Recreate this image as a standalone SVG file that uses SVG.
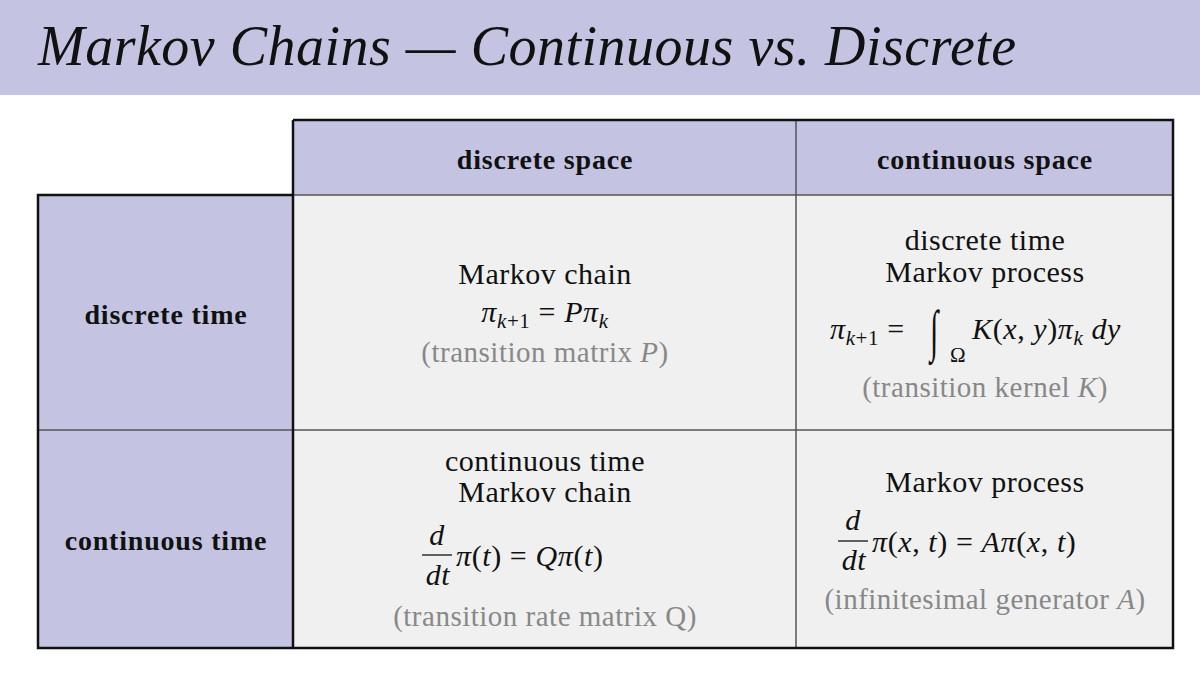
<svg xmlns="http://www.w3.org/2000/svg" width="1200" height="675" viewBox="0 0 1200 675">
<style>
.t{font-family:"Liberation Serif",serif;fill:#111;text-anchor:middle}
.s{text-anchor:start}
.b{font-weight:bold;font-size:28px;letter-spacing:0.8px}
.n{font-size:30px;letter-spacing:0.5px}
.m{font-style:italic;font-size:30px;letter-spacing:0.6px}
.g{fill:#888;font-size:29px;letter-spacing:0.5px}
.hd{fill:#c4c4e2}
.cl{fill:#f0f0f0}
</style>
<rect x="0" y="0" width="1200" height="95" class="hd"/>
<text x="38" y="65" style="font-family:'Liberation Serif',serif;font-style:italic;font-size:56px;letter-spacing:0.5px;fill:#111">Markov Chains — Continuous vs. Discrete</text>
<g id="headers">
<rect x="293" y="120" width="880" height="75" class="hd"/>
<rect x="38" y="195" width="255" height="453" class="hd"/>
<text class="t b" x="545" y="169">discrete space</text>
<text class="t b" x="985" y="169">continuous space</text>
<text class="t b" x="166" y="324">discrete time</text>
<text class="t b" x="166" y="550">continuous time</text>
</g>
<g id="cells">
<rect x="293" y="195" width="880" height="453" class="cl"/>
</g>
<g id="grid" fill="none">
<line x1="293" y1="195" x2="1173" y2="195" stroke="#555" stroke-width="1.5"/>
<line x1="38" y1="430" x2="1173" y2="430" stroke="#555" stroke-width="1.5"/>
<line x1="796" y1="120" x2="796" y2="648" stroke="#555" stroke-width="1.5"/>
<line x1="293" y1="120" x2="293" y2="648" stroke="#111" stroke-width="2.5"/>
<path d="M293 120H1173V648H38V195H293" stroke="#111" stroke-width="2.5"/>
</g>
<g id="c11">
<text class="t n" x="545" y="284">Markov chain</text>
<text class="t m" x="545" y="322">π<tspan font-size="21" dy="6">k</tspan><tspan font-size="21" font-style="normal">+1</tspan><tspan dy="-6" font-style="normal"> = </tspan>Pπ<tspan font-size="21" dy="6">k</tspan></text>
<text class="t g" x="545" y="362">(transition matrix <tspan font-style="italic">P</tspan>)</text>
</g>
<g id="c12">
<text class="t n" x="985" y="250">discrete time</text>
<text class="t n" x="985" y="282">Markov process</text>
<text class="t m s" x="830" y="339">π<tspan font-size="21" dy="6">k</tspan><tspan font-size="21" font-style="normal">+1</tspan><tspan dy="-6" font-style="normal">  =</tspan></text>
<text class="t m s" transform="translate(930,350) scale(1,1.9)" x="0" y="0" font-size="36">∫</text>
<text class="t s" x="950" y="362" font-size="21">Ω</text>
<text class="t m s" x="972" y="339">K<tspan font-style="normal">(</tspan>x<tspan font-style="normal">, </tspan>y<tspan font-style="normal">)</tspan>π<tspan font-size="21" dy="6">k</tspan><tspan dy="-6"> dy</tspan></text>
<text class="t g" x="985" y="397">(transition kernel <tspan font-style="italic">K</tspan>)</text>
</g>
<g id="c21">
<text class="t n" x="545" y="471">continuous time</text>
<text class="t n" x="545" y="502">Markov chain</text>
<text class="t m" x="437" y="545">d</text>
<line x1="422" y1="555" x2="452" y2="555" stroke="#111" stroke-width="1.3"/>
<text class="t m" x="438" y="585">dt</text>
<text class="t m s" x="456" y="566">π<tspan font-style="normal">(</tspan>t<tspan font-style="normal">)  =  </tspan>Qπ<tspan font-style="normal">(</tspan>t<tspan font-style="normal">)</tspan></text>
<text class="t g" x="545" y="626">(transition rate matrix Q)</text>
</g>
<g id="c22">
<text class="t n" x="985" y="492">Markov process</text>
<text class="t m" x="853" y="530">d</text>
<line x1="838" y1="541" x2="868" y2="541" stroke="#111" stroke-width="1.3"/>
<text class="t m" x="854" y="570">dt</text>
<text class="t m s" x="872" y="552">π<tspan font-style="normal">(</tspan>x<tspan font-style="normal">, </tspan>t<tspan font-style="normal">)  =  </tspan>Aπ<tspan font-style="normal">(</tspan>x<tspan font-style="normal">, </tspan>t<tspan font-style="normal">)</tspan></text>
<text class="t g" x="985" y="609">(infinitesimal generator <tspan font-style="italic">A</tspan>)</text>
</g>
<g id="connectors"/>
</svg>
